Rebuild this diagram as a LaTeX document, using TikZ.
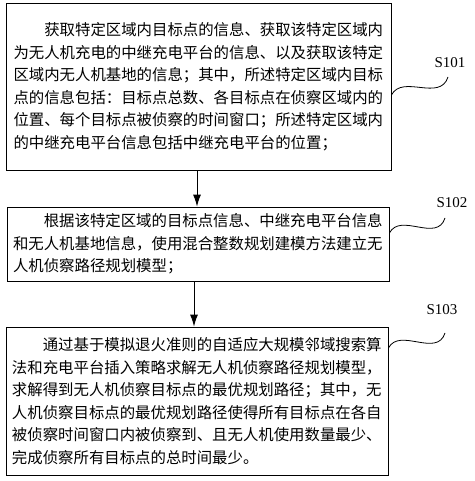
\documentclass[tikz,border=0pt]{standalone}
\usepackage{fontspec}
\setmainfont{Liberation Serif}
\newfontfamily\cjk{Noto Sans CJK SC}
\usetikzlibrary{arrows.meta}
\begin{document}
\begin{tikzpicture}[x=1pt,y=-1pt,
    procbox/.style={draw,line width=0.9pt,text width=370pt,align=left,
      inner sep=0pt,font=\cjk\fontsize{15.4}{22.5}\selectfont},
    steptag/.style={font=\fontsize{15}{15}\selectfont,inner sep=0pt},
    flow/.style={-{Latex[length=12pt,width=8pt]},line width=0.9pt},
    wave/.style={line width=0.8pt}]
  \useasboundingbox (0,0) rectangle (474,481);

  \node[procbox,minimum width=385pt,minimum height=167pt] (s101) at (198.5,86.5)
  {\hspace*{2em}获取特定区域内目标点的信息、获取该特定区域内\\
   为无人机充电的中继充电平台的信息、以及获取该特定\\
   区域内无人机基地的信息；其中，所述特定区域内目标\\
   点的信息包括：目标点总数、各目标点在侦察区域内的\\
   位置、每个目标点被侦察的时间窗口；所述特定区域内\\
   的中继充电平台信息包括中继充电平台的位置；};
  \node[procbox,minimum width=382pt,minimum height=74pt] (s102) at (198,244)
  {\hspace*{2em}根据该特定区域的目标点信息、中继充电平台信息\\
   和无人机基地信息，使用混合整数规划建模方法建立无\\
   人机侦察路径规划模型；};
  \node[procbox,minimum width=382pt,minimum height=148pt] (s103) at (197,401)
  {\hspace*{2em}通过基于模拟退火准则的自适应大规模邻域搜索算\\
   法和充电平台插入策略求解无人机侦察路径规划模型，\\
   求解得到无人机侦察目标点的最优规划路径；其中，无\\
   人机侦察目标点的最优规划路径使得所有目标点在各自\\
   被侦察时间窗口内被侦察到、且无人机使用数量最少、\\
   完成侦察所有目标点的总时间最少。};

  \draw[flow] ([xshift=-1.5pt]s101.south) -- ([xshift=-1pt]s102.north);
  \draw[flow] ([xshift=-4pt]s102.south) -- ([xshift=-3pt]s103.north);

  % step tags
  \node[steptag] (t101) at (450,63) {S101};
  \node[steptag] (t102) at (452,203) {S102};
  \node[steptag] (t103) at (442,310) {S103};
  \coordinate (w101) at (448,77);
  \coordinate (w102) at (445,218);
  \coordinate (w103) at (445,333);

  \draw[wave] ([yshift=-8.5pt]s101.east) .. controls +(11,-21) and +(-8,25) .. (w101);
  \draw[wave] ([yshift=11pt]s102.east) .. controls +(11,-21) and +(-8,25) .. (w102);
  \draw[wave] ([yshift=53pt]s103.east) .. controls +(11,-21) and +(-8,25) .. (w103);
\end{tikzpicture}
\end{document}
